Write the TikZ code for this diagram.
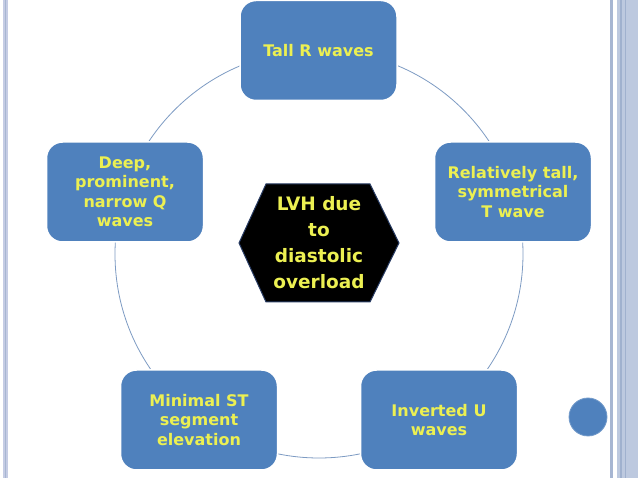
\documentclass[tikz,border=0pt]{standalone}
\usepackage{fontspec}
\setmainfont{DejaVu Sans}
\definecolor{boxblue}{RGB}{79,129,189}
\definecolor{txtyellow}{RGB}{236,240,82}
\definecolor{ringblue}{RGB}{125,155,195}
\definecolor{hexedge}{RGB}{40,60,100}
\definecolor{barA}{RGB}{197,204,228}
\definecolor{barB}{RGB}{167,182,210}
\definecolor{barC}{RGB}{189,201,223}
\definecolor{barD}{RGB}{160,177,206}
\begin{document}
\begin{tikzpicture}[x=1pt,y=-1pt,
  box/.style={rectangle, rounded corners=16pt, fill=boxblue, draw=white, line width=1.5pt,
    minimum width=157pt, minimum height=100pt, text=txtyellow, inner sep=0pt,
    font=\fontsize{16}{19.5}\selectfont\bfseries, align=center},
  hextext/.style={text=txtyellow, font=\fontsize{18.5}{26}\selectfont\bfseries, align=center, inner sep=0pt},
  ring/.style={draw=ringblue, line width=0.8pt},
  bar/.style={draw=none}
]
\useasboundingbox (0,0) rectangle (638,478);
\fill[white] (0,0) rectangle (638,478);
% side decorations
\fill[barA] (3,0) rectangle (7.5,478);
\fill[barB] (4.8,0) rectangle (5.6,478);
\fill[barB] (610,0) rectangle (612.5,478);
\fill[barC] (616.5,0) rectangle (638,478);
\fill[barD] (620,0) rectangle (622,478);
\fill[barD] (624.5,0) rectangle (625.5,478);
% ring
\coordinate (c) at (319,254);
\draw[ring] (c) circle (204pt);
% boxes
\node[box] (top) at (318.5,50.5) {Tall R waves};
\node[box] (right) at (513,192) {Relatively tall,\\symmetrical\\T wave};
\node[box] (bright) at (439,420) {Inverted U\\waves};
\node[box] (bleft) at (199,420) {Minimal ST\\segment\\elevation};
\node[box] (left) at (125,192) {Deep,\\prominent,\\narrow Q\\waves};
% hexagon
\coordinate (h1) at (239,243);
\coordinate (h2) at (266,184);
\coordinate (h3) at (370,184);
\coordinate (h4) at (399,243);
\coordinate (h5) at (370,302);
\coordinate (h6) at (266,302);
\filldraw[fill=black, draw=hexedge, line width=1pt] (h1) -- (h2) -- (h3) -- (h4) -- (h5) -- (h6) -- cycle;
\node[hextext] (hex) at (319,243) {LVH due\\to\\diastolic\\overload};
% small circle
\node[circle, fill=boxblue, draw=boxblue!80!white, line width=0.8pt, minimum size=38pt, inner sep=0pt] (dot) at (588,417) {};
\end{tikzpicture}
\end{document}
